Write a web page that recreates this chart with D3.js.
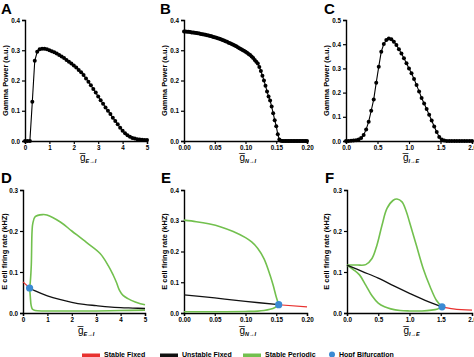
<!DOCTYPE html>
<html><head><meta charset="utf-8">
<script src="https://cdn.jsdelivr.net/npm/d3@7"></script>
<style>
body{margin:0;background:#fff;}
svg{display:block;}
text{font-family:"Liberation Sans",Arial,sans-serif;}
</style></head>
<body><svg id="c" width="474" height="357"></svg>
<script>
// ---------- DATA ----------
// Panel A: gamma power vs g E->I (step 0.1, 0..5)
const aStep = 0.1;
const aPower = [0,0,0,0.13,0.265,0.295,0.303,0.305,0.305,0.303,0.300,0.297,0.293,0.289,0.284,0.279,0.274,0.268,0.262,0.256,0.250,0.243,0.235,0.227,0.218,0.207,0.196,0.184,0.172,0.160,0.147,0.135,0.123,0.111,0.100,0.089,0.077,0.066,0.055,0.044,0.034,0.026,0.019,0.014,0.010,0.008,0.006,0.005,0.004,0.003,0.003];
// Panel B: gamma power vs g N->I (step 0.0025, 0..0.2)
const bStep = 0.0025;
const bPower = [0.362,0.362,0.361,0.361,0.360,0.359,0.359,0.358,0.357,0.356,0.355,0.354,0.353,0.352,0.351,0.350,0.349,0.347,0.346,0.344,0.343,0.341,0.340,0.338,0.336,0.334,0.332,0.330,0.328,0.325,0.323,0.321,0.318,0.316,0.313,0.310,0.307,0.304,0.301,0.298,0.295,0.292,0.288,0.284,0.279,0.274,0.268,0.262,0.256,0.245,0.231,0.216,0.200,0.183,0.164,0.147,0.134,0.114,0.092,0.069,0.049,0.022,0.005,0.001,0,0,0,0,0,0,0,0,0,0,0,0,0,0,0,0,0];
// Panel C: gamma power vs g I->E (step 0.04, 0..2)
const cStep = 0.04;
const cPower = [0,0.0005,0.001,0.002,0.003,0.006,0.012,0.025,0.048,0.080,0.125,0.172,0.241,0.307,0.369,0.401,0.417,0.424,0.420,0.410,0.397,0.379,0.362,0.342,0.321,0.300,0.280,0.256,0.231,0.205,0.178,0.155,0.132,0.108,0.085,0.060,0.037,0.017,0.006,0.002,0,0,0,0,0,0,0,0,0,0,0];

// Panel D: E cell firing rate vs g E->I
const dStableFixed   = [[0,0.076],[0.27,0.061]];
const dUnstableFixed = [[0.27,0.061],[0.5,0.054],[1,0.042],[1.5,0.033],[2,0.026],[2.5,0.021],[3,0.018],[3.5,0.015],[4,0.013],[4.5,0.012],[5,0.011]];
const dPeriodicHigh  = [[0.27,0.061],[0.30,0.076],[0.34,0.117],[0.37,0.198],[0.40,0.218],[0.5,0.235],[0.8,0.240],[0.98,0.239],[1.53,0.222],[2.0,0.200],[2.6,0.172],[3.16,0.145],[3.5,0.115],[3.7,0.092],[3.84,0.073],[3.95,0.056],[4.1,0.043],[4.3,0.035],[4.6,0.027],[5,0.020]];
const dPeriodicLow   = [[0.27,0.061],[0.30,0.040],[0.33,0.020],[0.38,0.010],[0.5,0.006],[1,0.005],[2,0.005],[3,0.005],[4,0.006],[5,0.007]];
const dHopf = [0.27,0.061];

// Panel E: E cell firing rate vs g N->I
const eStableFixed   = [[0.154,0.027],[0.2,0.020]];
const eUnstableFixed = [[0,0.059],[0.05,0.049],[0.1,0.038],[0.154,0.027]];
const ePeriodicHigh  = [[0,0.302],[0.02,0.297],[0.04,0.290],[0.06,0.280],[0.08,0.265],[0.10,0.245],[0.11,0.231],[0.12,0.210],[0.13,0.177],[0.14,0.123],[0.145,0.090],[0.15,0.052],[0.154,0.027]];
const ePeriodicLow   = [[0,0.004],[0.05,0.004],[0.10,0.005],[0.12,0.006],[0.13,0.008],[0.14,0.012],[0.148,0.018],[0.154,0.027]];
const eHopf = [0.154,0.027];

// Panel F: E cell firing rate vs g I->E
const fStableFixed   = [[1.52,0.015],[1.7,0.010],[2.0,0.007]];
const fUnstableFixed = [[0,0.117],[0.25,0.101],[0.5,0.085],[0.75,0.066],[1.0,0.048],[1.25,0.031],[1.52,0.015]];
const fPeriodicHigh  = [[0,0.117],[0.16,0.117],[0.30,0.118],[0.40,0.133],[0.48,0.166],[0.56,0.214],[0.64,0.255],[0.74,0.275],[0.80,0.278],[0.88,0.271],[0.95,0.247],[1.0,0.222],[1.11,0.165],[1.22,0.108],[1.33,0.064],[1.43,0.031],[1.52,0.015]];
const fPeriodicLow   = [[0,0.117],[0.1,0.106],[0.2,0.093],[0.3,0.068],[0.4,0.042],[0.5,0.024],[0.6,0.015],[0.7,0.010],[0.85,0.006],[1.0,0.005],[1.2,0.005],[1.35,0.007],[1.45,0.010],[1.52,0.015]];
const fHopf = [1.52,0.015];

const yTicksA = [0,0.1,0.2,0.3,0.4], xTicksA = [0,1,2,3,4,5];
const yTicksB = [0,0.1,0.2,0.3,0.4], xTicksB = [0,0.05,0.10,0.15,0.20];
const yTicksC = [0,0.1,0.2,0.3,0.4,0.5], xTicksC = [0,0.5,1.0,1.5,2.0];
const yTicksD = [0,0.1,0.2,0.3], yTicksE = [0,0.1,0.2,0.3,0.4], yTicksF = [0,0.1,0.2,0.3];

const legendItems = ["Stable Fixed","Unstable Fixed","Stable Periodic","Hopf Bifurcation"];

// ---------- DRAW ----------
const RED="#e8312f", BLACK="#111", GREEN="#72c04e", BLUE="#3b8ad3";
const svg = d3.select("#c");

function panel(o){
  const x = d3.scaleLinear().domain(o.xd).range([o.x0,o.x1]);
  const y = d3.scaleLinear().domain(o.yd).range([o.yb,o.yt]);
  const g = svg.append("g");
  const ax = g.append("g").attr("transform",`translate(0,${o.yb})`)
    .call(d3.axisBottom(x).tickValues(o.xt).tickFormat(d3.format(o.xf)).tickSize(3).tickPadding(1.5));
  const ay = g.append("g").attr("transform",`translate(${o.x0},0)`)
    .call(d3.axisLeft(y).tickValues(o.yt_).tickFormat(d3.format(".1f")).tickSize(3).tickPadding(2));
  [ax,ay].forEach(a=>{
    a.select(".domain").attr("stroke","#000").attr("stroke-width",1.4);
    a.selectAll(".tick line").attr("stroke","#000").attr("stroke-width",1.2);
    a.selectAll(".tick text").attr("font-size","6.3px").attr("font-weight","bold").attr("fill","#000")
      .attr("font-family","Liberation Sans, Arial, sans-serif");
  });
  // panel letter
  g.append("text").attr("x",o.lx).attr("y",o.ly).text(o.letter)
    .attr("font-size","15px").attr("font-weight","bold");
  // y label
  g.append("text").attr("transform",`translate(${o.ylx},${(o.yb+o.yt)/2}) rotate(-90)`)
    .attr("text-anchor","middle").attr("font-size","7.4px").attr("font-weight","bold").text(o.ylabel);
  // x label
  const xl = g.append("text").attr("x",(o.x0+o.x1)/2-6).attr("y",o.yb+o.xly).attr("font-size","10px");
  xl.append("tspan").text("g\u0305");
  xl.append("tspan").attr("font-size","5.5px").attr("font-style","italic").attr("font-weight","bold").attr("dy",2).text(o.sub);
  return {x,y,g};
}

function dotPanel(p, step, vals){
  const pts = vals.map((v,i)=>[i*step,v]);
  const line = d3.line().x(d=>p.x(d[0])).y(d=>p.y(d[1]));
  p.g.append("path").attr("d",line(pts)).attr("fill","none").attr("stroke","#000").attr("stroke-width",1.1);
  p.g.selectAll("circle.pt").data(pts).enter().append("circle").attr("class","pt")
    .attr("cx",d=>p.x(d[0])).attr("cy",d=>p.y(d[1])).attr("r",2).attr("fill","#000");
}

function bifPanel(p, sf, uf, ph, pl, hopf){
  const line = d3.line().x(d=>p.x(d[0])).y(d=>p.y(d[1])).curve(d3.curveMonotoneX);
  const lineC = d3.line().x(d=>p.x(d[0])).y(d=>p.y(d[1])).curve(d3.curveCatmullRom.alpha(0.5));
  p.g.append("path").attr("d",lineC(ph)).attr("fill","none").attr("stroke",GREEN).attr("stroke-width",1.6);
  p.g.append("path").attr("d",lineC(pl)).attr("fill","none").attr("stroke",GREEN).attr("stroke-width",1.6);
  p.g.append("path").attr("d",lineC(uf)).attr("fill","none").attr("stroke",BLACK).attr("stroke-width",1.3);
  p.g.append("path").attr("d",line(sf)).attr("fill","none").attr("stroke",RED).attr("stroke-width",1.1);
  p.g.append("circle").attr("cx",p.x(hopf[0])).attr("cy",p.y(hopf[1])).attr("r",3.6).attr("fill",BLUE);
}

const pA = panel({xd:[0,5],yd:[0,0.4],x0:25,x1:147,yb:141,yt:20,xt:xTicksA,xf:"d",yt_:yTicksA,
  letter:"A",lx:1,ly:14,ylx:8,ylabel:"Gamma Power (a.u.)",xly:19.5,sub:"E\u2192I"});
dotPanel(pA,aStep,aPower);
const pB = panel({xd:[0,0.2],yd:[0,0.4],x0:184,x1:307,yb:141,yt:20,xt:xTicksB,xf:".2f",yt_:yTicksB,
  letter:"B",lx:160,ly:14,ylx:167,ylabel:"Gamma Power (a.u.)",xly:19.5,sub:"N\u2192I"});
dotPanel(pB,bStep,bPower);
const pC = panel({xd:[0,2],yd:[0,0.5],x0:346,x1:472,yb:141,yt:20,xt:xTicksC,xf:".1f",yt_:yTicksC,
  letter:"C",lx:324,ly:14,ylx:329,ylabel:"Gamma Power (a.u.)",xly:19.5,sub:"I\u2192E"});
dotPanel(pC,cStep,cPower);

const pD = panel({xd:[0,5],yd:[0,0.3],x0:23,x1:145,yb:313,yt:190,xt:xTicksA,xf:"d",yt_:yTicksD,
  letter:"D",lx:1,ly:183,ylx:7,ylabel:"E cell firing rate (kHZ)",xly:20.5,sub:"E\u2192I"});
bifPanel(pD,dStableFixed,dUnstableFixed,dPeriodicHigh,dPeriodicLow,dHopf);
const pE = panel({xd:[0,0.2],yd:[0,0.4],x0:184,x1:307,yb:313,yt:190,xt:xTicksB,xf:".2f",yt_:yTicksE,
  letter:"E",lx:161,ly:183,ylx:167,ylabel:"E cell firing rate (kHZ)",xly:20.5,sub:"N\u2192I"});
bifPanel(pE,eStableFixed,eUnstableFixed,ePeriodicHigh,ePeriodicLow,eHopf);
const pF = panel({xd:[0,2],yd:[0,0.3],x0:347,x1:472,yb:313,yt:190,xt:xTicksC,xf:".1f",yt_:yTicksF,
  letter:"F",lx:325,ly:183,ylx:329,ylabel:"E cell firing rate (kHZ)",xly:20.5,sub:"I\u2192E"});
bifPanel(pF,fStableFixed,fUnstableFixed,fPeriodicHigh,fPeriodicLow,fHopf);

// legend
const lg = svg.append("g");
const lx = [82,160,243,330], lcol=[RED,BLACK,GREEN,BLUE];
legendItems.forEach((t,i)=>{
  if(i<3){
    lg.append("rect").attr("x",lx[i]).attr("y",353.5).attr("width",18).attr("height",4).attr("fill",lcol[i]);
    lg.append("text").attr("x",lx[i]+22).attr("y",356.5).attr("font-size","7px").attr("font-weight","bold").text(t);
  } else {
    lg.append("circle").attr("cx",lx[i]+2).attr("cy",354.5).attr("r",3).attr("fill",lcol[i]);
    lg.append("text").attr("x",lx[i]+9).attr("y",356.5).attr("font-size","7px").attr("font-weight","bold").text(t);
  }
});
</script></body></html>
